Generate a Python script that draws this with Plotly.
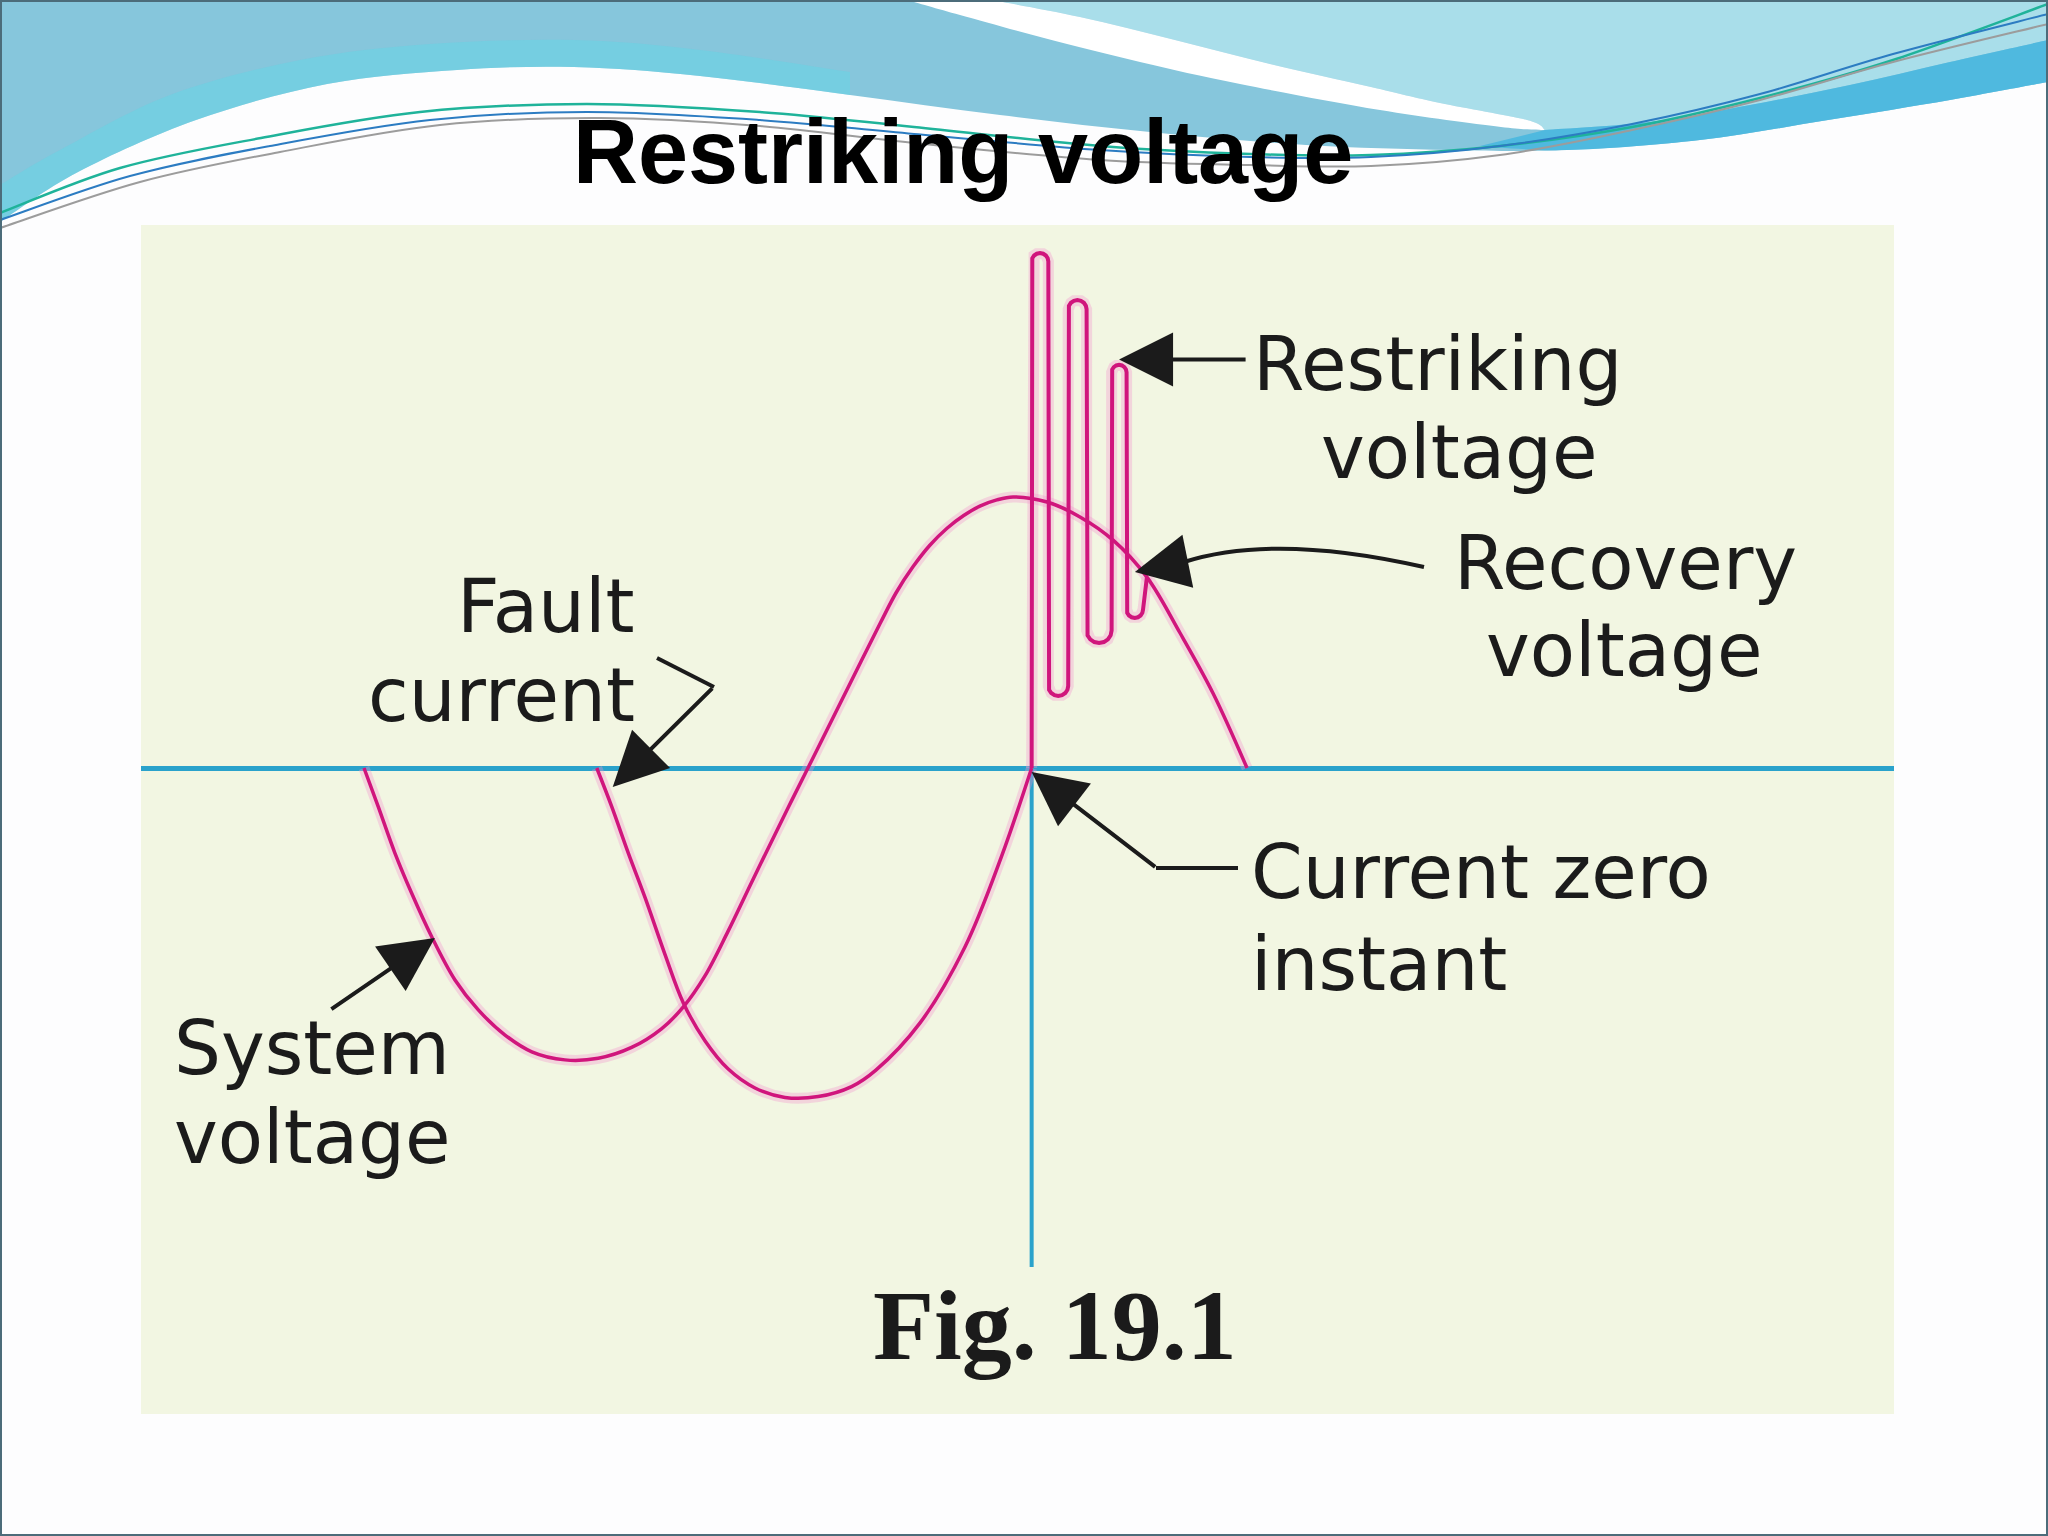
import math
import plotly.graph_objects as go

W, H = 2048, 1536

# ---------------- data (electrical angle in degrees, values in per unit of the voltage peak) ----------------
voltage_theta = [0, 5.8, 12.6, 19.4, 27.6, 37.1, 46.6, 57.5, 68.4, 81.9,
                 95.5, 109.1, 121.4, 130.2, 139.0, 148.4, 158.2, 167.6, 174.5, 181.0,
                 186.7, 196.9, 210.4, 217.0, 223.8, 230.7, 237.7, 244.5, 251.1, 258.0,
                 264.6, 278.5, 291.9, 305.4, 319.2, 332.7, 346.1, 360.0]
voltage_pu = [0, -0.143, -0.315, -0.463, -0.625, -0.785, -0.896, -0.989, -1.051, -1.081,
              -1.075, -1.035, -0.965, -0.885, -0.770, -0.605, -0.420, -0.245, -0.118, 0,
              0.104, 0.290, 0.535, 0.650, 0.745, 0.825, 0.888, 0.935, 0.970, 0.993,
              1.004, 0.985, 0.930, 0.844, 0.707, 0.500, 0.278, 0]

current_theta = [94.9, 101.0, 107.8, 114.6, 122.7, 130.2, 139.0, 148.5, 159.4, 171.6,
                 185.2, 198.8, 208.7, 226.7, 245.0, 259.7, 272.2]
current_pu = [0, -0.143, -0.316, -0.480, -0.690, -0.870, -1.010, -1.115, -1.185, -1.220,
              -1.217, -1.180, -1.119, -0.944, -0.663, -0.333, 0]

current_zero_theta = 272.2

# restriking oscillation: stroke positions (deg) and turning values (pu)
restrike_strokes_theta = [272.2, 279.0, 287.1, 294.6, 304.8, 310.9, 317.6]
restrike_turns_pu = [1.907, 0.267, 1.733, 0.463, 1.493, 0.556]
restrike_end = (319.2, 0.707)

# ---------------- geometry of the slide (pixels) ----------------
PX0, PX_PER_DEG = 364.0, 2.4528
AXIS_PY, PX_PER_PU = 768.0, 270.0
PANEL = (141, 225, 1894, 1414)  # left, top, right, bottom

MAGENTA = "#D0157C"
CYAN = "#2AA2CB"
INK = "#1B1B1B"


def P(x, y):
    return x / W, 1 - y / H


def smooth(pts):
    """Catmull-Rom through pixel points -> SVG path segment in paper coords."""
    out = []
    n = len(pts)
    for i in range(n - 1):
        p0 = pts[i - 1] if i > 0 else pts[i]
        p1 = pts[i]
        p2 = pts[i + 1]
        p3 = pts[i + 2] if i + 2 < n else pts[i + 1]
        c1 = (p1[0] + (p2[0] - p0[0]) / 6, p1[1] + (p2[1] - p0[1]) / 6)
        c2 = (p2[0] - (p3[0] - p1[0]) / 6, p2[1] - (p3[1] - p1[1]) / 6)
        a, b, c = P(*c1), P(*c2), P(*p2)
        out.append(f"C {a[0]:.5f},{a[1]:.5f} {b[0]:.5f},{b[1]:.5f} {c[0]:.5f},{c[1]:.5f}")
    return " ".join(out)


def mv(pt):
    a = P(*pt)
    return f"M {a[0]:.5f},{a[1]:.5f}"


def ln(pt):
    a = P(*pt)
    return f"L {a[0]:.5f},{a[1]:.5f}"


# ---------------- build restriking trace (straight strokes with round turns) ----------------
rx, ry = [current_zero_theta], [0.0]
for i, tv in enumerate(restrike_turns_pu):
    xa, xb = restrike_strokes_theta[i], restrike_strokes_theta[i + 1]
    xm, rth = (xa + xb) / 2, (xb - xa) / 2
    rpu = rth * PX_PER_DEG / PX_PER_PU
    top = (i % 2 == 0)
    for k in range(9):
        a = math.pi * (1 - k / 8)
        rx.append(xm + rth * math.cos(a))
        ry.append((tv - rpu) + rpu * math.sin(a) if top else (tv + rpu) - rpu * math.sin(a))
rx.append(restrike_end[0])
ry.append(restrike_end[1])

fig = go.Figure()

halo = dict(color="rgba(244,150,205,0.35)", width=11)
for xs, ys, shp in [(voltage_theta, voltage_pu, "spline"), (current_theta, current_pu, "spline"),
                    (rx, ry, "linear")]:
    fig.add_trace(go.Scatter(x=xs, y=ys, mode="lines", line=dict(halo, shape=shp),
                             hoverinfo="skip", showlegend=False))

fig.add_trace(go.Scatter(x=voltage_theta, y=voltage_pu, mode="lines", name="System voltage",
                         line=dict(color=MAGENTA, width=3.5, shape="spline", smoothing=1.0), showlegend=False))
fig.add_trace(go.Scatter(x=current_theta, y=current_pu, mode="lines", name="Fault current",
                         line=dict(color=MAGENTA, width=3.5, shape="spline", smoothing=1.0), showlegend=False))
fig.add_trace(go.Scatter(x=rx, y=ry, mode="lines", name="Restriking voltage",
                         line=dict(color=MAGENTA, width=4, shape="linear"), showlegend=False))

# ---------------- axes ----------------
x_range = [(PANEL[0] - PX0) / PX_PER_DEG, (PANEL[2] - PX0) / PX_PER_DEG]
y_range = [(AXIS_PY - PANEL[3]) / PX_PER_PU, (AXIS_PY - PANEL[1]) / PX_PER_PU]
fig.update_xaxes(domain=[PANEL[0] / W, PANEL[2] / W], range=x_range, showgrid=False, zeroline=False,
                 showticklabels=False, ticks="", showline=False)
fig.update_yaxes(domain=[1 - PANEL[3] / H, 1 - PANEL[1] / H], range=y_range, showgrid=False,
                 zeroline=True, zerolinecolor=CYAN, zerolinewidth=5, showticklabels=False, ticks="",
                 showline=False)

shapes = []
# --- slide decoration ---
lower_boundary = [(2048, 82), (1950, 100), (1828, 120), (1700, 140), (1567, 150), (1450, 150),
                  (1306, 145), (1150, 132), (1000, 115), (850, 95), (700, 76), (574, 67),
                  (457, 70), (327, 84), (196, 120), (78, 172), (0, 222)]
shapes.append(dict(type="path", xref="paper", yref="paper", layer="below",
                   path=mv((0, 0)) + " " + ln((2048, 0)) + " " + ln((2048, 82)) + " " + smooth(lower_boundary) + " Z",
                   fillcolor="#86C6DC", line=dict(width=0)))
glow = [(0, 222), (78, 172), (196, 120), (327, 84), (457, 70), (574, 67), (700, 76), (850, 95)]
glow_top = [(850, 72), (700, 50), (574, 40), (430, 44), (300, 60), (170, 95), (60, 150), (0, 185)]
shapes.append(dict(type="path", xref="paper", yref="paper", layer="below",
                   path=mv(glow[0]) + " " + smooth(glow) + " " + ln(glow_top[0]) + " " + smooth(glow_top) + " Z",
                   fillcolor="rgba(100,214,230,0.5)", line=dict(width=0)))
light = [(992, 0), (2048, 0), (2048, 40)]
band_top = [(2048, 40), (1950, 62), (1850, 85), (1750, 105), (1650, 122), (1545, 130)]
swoosh_right = [(1545, 130), (1527, 120), (1440, 103), (1371, 87), (1270, 64), (1175, 40), (1080, 17), (992, 0)]
shapes.append(dict(type="path", xref="paper", yref="paper", layer="below",
                   path=mv(light[0]) + " " + ln(light[1]) + " " + ln(light[2]) + " " + smooth(band_top) + " "
                   + smooth(swoosh_right) + " Z",
                   fillcolor="#A9DEEA", line=dict(width=0)))
swoosh_left = [(907, 0), (960, 15), (1044, 38), (1140, 62), (1240, 84), (1380, 110), (1501, 127), (1545, 130)]
shapes.append(dict(type="path", xref="paper", yref="paper", layer="below",
                   path=mv(swoosh_left[0]) + " " + smooth(swoosh_left) + " " + smooth(swoosh_right) + " Z",
                   fillcolor="#FFFFFF", line=dict(width=0)))
band_low = [(2048, 82), (1950, 100), (1828, 120), (1700, 140), (1567, 150), (1480, 146)]
shapes.append(dict(type="path", xref="paper", yref="paper", layer="below",
                   path=mv((1480, 146)) + " " + ln((1545, 130)) + " " + smooth(band_top[::-1]) + " " + ln((2048, 82))
                   + " " + smooth(band_low) + " Z",
                   fillcolor="#4FB9DF", line=dict(width=0)))
thin_lines = [
    ([(0, 213), (120, 168), (261, 138), (420, 112), (587, 104), (760, 112), (914, 127), (1100, 146),
      (1250, 154), (1371, 155), (1500, 146), (1632, 127), (1760, 98), (1893, 60), (2048, 4)], "#1FB39A", 2.5),
    ([(0, 220), (130, 176), (270, 146), (430, 120), (587, 112), (760, 120), (914, 134), (1100, 150),
      (1250, 157), (1371, 157), (1500, 146), (1632, 124), (1760, 94), (1893, 54), (2048, 14)], "#2C7CC2", 2),
    ([(0, 228), (140, 182), (280, 152), (440, 125), (600, 118), (760, 126), (914, 143), (1100, 160),
      (1250, 165), (1371, 166), (1500, 155), (1632, 130), (1760, 100), (1893, 62), (2048, 24)], "#9C9C9C", 2),
]
for pts, col, wd in thin_lines:
    shapes.append(dict(type="path", xref="paper", yref="paper", layer="below",
                       path=mv(pts[0]) + " " + smooth(pts), line=dict(color=col, width=wd)))
# slide frame
shapes.append(dict(type="rect", xref="paper", yref="paper", x0=0, x1=1, y0=0, y1=1,
                   line=dict(color="#4C6C7A", width=4), layer="above"))

# --- vertical line at current zero ---
shapes.append(dict(type="line", xref="x", yref="y", x0=current_zero_theta, x1=current_zero_theta,
                   y0=0, y1=(AXIS_PY - 1267) / PX_PER_PU, line=dict(color=CYAN, width=4), layer="below"))


# --- arrow leader segments ---
def seg(a, b):
    pa, pb = P(*a), P(*b)
    return dict(type="line", xref="paper", yref="paper", x0=pa[0], y0=pa[1], x1=pb[0], y1=pb[1],
                line=dict(color=INK, width=4))


shapes.append(seg((1156, 868), (1238, 868)))
shapes.append(seg((657, 658), (714, 687)))
rc0, rc1, rc2 = P(1184, 562), P(1275, 533), P(1424, 567)
shapes.append(dict(type="path", xref="paper", yref="paper",
                   path=f"M {rc0[0]:.5f},{rc0[1]:.5f} Q {rc1[0]:.5f},{rc1[1]:.5f} {rc2[0]:.5f},{rc2[1]:.5f}",
                   line=dict(color=INK, width=4)))

fig.update_layout(shapes=shapes)

# ---------------- annotations ----------------
ann = []


def label(text, x, baseline, size, anchor, family, color=INK):
    cx, cy = P(x, baseline - 0.346 * size)
    ann.append(dict(text=text, x=cx, y=cy, xref="paper", yref="paper", xanchor=anchor, yanchor="middle",
                    showarrow=False, borderpad=0, font=dict(family=family, size=size, color=color)))


SANS = "DejaVu Sans"
LS = 74
label("Restriking", 1252, 390, LS, "left", SANS)
label("voltage", 1459, 478, LS, "center", SANS)
label("Recovery", 1625, 589, LS, "center", SANS)
label("voltage", 1624, 676, LS, "center", SANS)
label("Fault", 636, 632, LS, "right", SANS)
label("current", 636, 721, LS, "right", SANS)
label("System", 173, 1074, LS, "left", SANS)
label("voltage", 173, 1163, LS, "left", SANS)
label("Current zero", 1250, 898, LS, "left", SANS)
label("instant", 1250, 990, LS, "left", SANS)
label("<b>Fig. 19.1</b>", 1055, 1360, 100, "center", "Liberation Serif, Times New Roman, serif")
label("<b>Restriking voltage</b>", 963, 183, 90, "center", "Liberation Sans, Arial", color="#000000")


def arrow(x, y, ax, ay):
    ann.append(dict(x=x, y=y, xref="x", yref="y", text="", showarrow=True, ax=ax, ay=ay,
                    axref="pixel", ayref="pixel", arrowhead=2, arrowsize=2.7, arrowwidth=4,
                    arrowcolor=INK, standoff=0))


arrow((restrike_strokes_theta[4] + restrike_strokes_theta[5]) / 2, restrike_turns_pu[4] + 0.02, 128, 0)
arrow(314.3, 0.726, 49, -10)
arrow(current_zero_theta, -0.015, 125, 96)
arrow(101.4, -0.07, 101, -100)
arrow(28.9, -0.63, -105, 72)

fig.update_layout(
    annotations=ann,
    width=W, height=H,
    margin=dict(l=0, r=0, t=0, b=0),
    paper_bgcolor="#FDFDFE",
    plot_bgcolor="#F2F6E2",
    showlegend=False,
)

fig.write_html("out.html", config={"displayModeBar": False},
               post_script="document.body.style.margin='0';document.body.style.overflow='hidden';")
